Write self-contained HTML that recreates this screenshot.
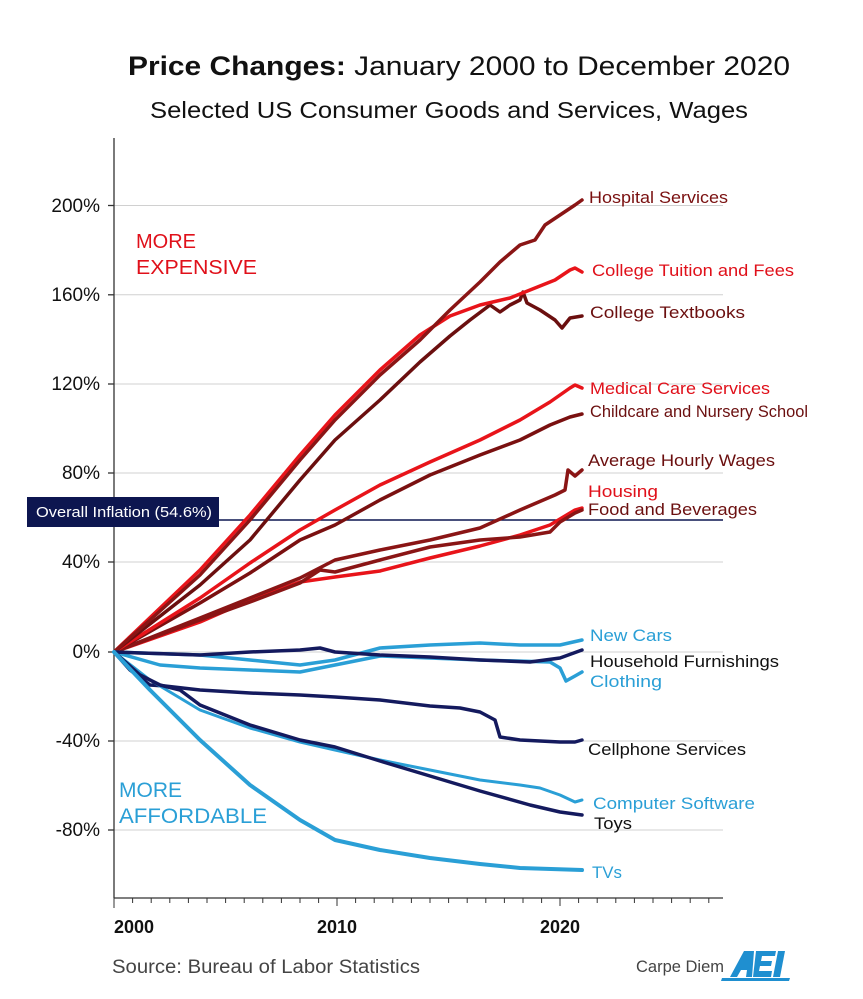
<!DOCTYPE html>
<html><head><meta charset="utf-8"><style>
body{margin:0;background:#fff;}
svg{display:block;font-family:"Liberation Sans",sans-serif;}
</style></head><body>
<svg width="863" height="999" viewBox="0 0 863 999" xmlns="http://www.w3.org/2000/svg">
<rect width="863" height="999" fill="#fff"/>
<text x="128" y="75" font-size="27" fill="#111" textLength="662" lengthAdjust="spacingAndGlyphs"><tspan font-weight="bold">Price Changes:</tspan> January 2000 to December 2020</text>
<text x="150" y="118" font-size="23" fill="#111" textLength="598" lengthAdjust="spacingAndGlyphs">Selected US Consumer Goods and Services, Wages</text>
<g stroke="#d0d0d0" stroke-width="1">
<line x1="114" x2="723" y1="205.5" y2="205.5"/>
<line x1="114" x2="723" y1="294.8" y2="294.8"/>
<line x1="114" x2="723" y1="384" y2="384"/>
<line x1="114" x2="723" y1="473" y2="473"/>
<line x1="114" x2="723" y1="562" y2="562"/>
<line x1="114" x2="723" y1="652" y2="652"/>
<line x1="114" x2="723" y1="741" y2="741"/>
<line x1="114" x2="723" y1="830" y2="830"/>
</g>
<g stroke="#333" stroke-width="1.3">
<line x1="114" y1="138" x2="114" y2="898"/>
<line x1="114" y1="898" x2="723" y2="898"/>
<line x1="108" x2="114" y1="205.5" y2="205.5"/><line x1="108" x2="114" y1="294.8" y2="294.8"/>
<line x1="108" x2="114" y1="384" y2="384"/><line x1="108" x2="114" y1="473" y2="473"/>
<line x1="108" x2="114" y1="562" y2="562"/><line x1="108" x2="114" y1="652" y2="652"/>
<line x1="108" x2="114" y1="741" y2="741"/><line x1="108" x2="114" y1="830" y2="830"/>
</g>
<g stroke="#333" stroke-width="1">
<line x1="114" x2="114" y1="898" y2="908"/>
<line x1="132.6" x2="132.6" y1="898" y2="903"/><line x1="151.2" x2="151.2" y1="898" y2="903"/><line x1="169.8" x2="169.8" y1="898" y2="903"/><line x1="188.4" x2="188.4" y1="898" y2="903"/><line x1="207" x2="207" y1="898" y2="903"/><line x1="225.6" x2="225.6" y1="898" y2="903"/><line x1="244.2" x2="244.2" y1="898" y2="903"/><line x1="262.8" x2="262.8" y1="898" y2="903"/><line x1="281.4" x2="281.4" y1="898" y2="903"/><line x1="300" x2="300" y1="898" y2="903"/><line x1="318.6" x2="318.6" y1="898" y2="903"/>
<line x1="337" x2="337" y1="898" y2="906"/>
<line x1="355.6" x2="355.6" y1="898" y2="903"/><line x1="374.2" x2="374.2" y1="898" y2="903"/><line x1="392.8" x2="392.8" y1="898" y2="903"/><line x1="411.4" x2="411.4" y1="898" y2="903"/><line x1="430" x2="430" y1="898" y2="903"/><line x1="448.6" x2="448.6" y1="898" y2="903"/><line x1="467.2" x2="467.2" y1="898" y2="903"/><line x1="485.8" x2="485.8" y1="898" y2="903"/><line x1="504.4" x2="504.4" y1="898" y2="903"/><line x1="523" x2="523" y1="898" y2="903"/><line x1="541.6" x2="541.6" y1="898" y2="903"/>
<line x1="560" x2="560" y1="898" y2="906"/>
<line x1="578.6" x2="578.6" y1="898" y2="903"/><line x1="597.2" x2="597.2" y1="898" y2="903"/><line x1="615.8" x2="615.8" y1="898" y2="903"/><line x1="634.4" x2="634.4" y1="898" y2="903"/><line x1="653" x2="653" y1="898" y2="903"/><line x1="671.6" x2="671.6" y1="898" y2="903"/><line x1="690.2" x2="690.2" y1="898" y2="903"/><line x1="708.8" x2="708.8" y1="898" y2="903"/>
</g>
<g font-size="19" fill="#111" text-anchor="end">
<text x="100" y="212">200%</text><text x="100" y="301">160%</text><text x="100" y="390">120%</text>
<text x="100" y="479">80%</text><text x="100" y="568">40%</text><text x="100" y="658">0%</text>
<text x="100" y="747">-40%</text><text x="100" y="836">-80%</text>
</g>
<g font-size="18" font-weight="bold" fill="#111" text-anchor="middle">
<text x="134" y="933">2000</text><text x="337" y="933">2010</text><text x="560" y="933">2020</text>
</g>
<text x="136" y="248" font-size="20" fill="#e0101a">MORE</text>
<text x="136" y="274" font-size="20" fill="#e0101a" textLength="121" lengthAdjust="spacingAndGlyphs">EXPENSIVE</text>
<text x="119" y="797" font-size="21" fill="#2a9fd6">MORE</text>
<text x="119" y="823" font-size="21" fill="#2a9fd6" textLength="148" lengthAdjust="spacingAndGlyphs">AFFORDABLE</text>
<line x1="219" x2="723" y1="520" y2="520" stroke="#0d1650" stroke-width="1.5"/>
<rect x="27" y="497" width="192" height="30" fill="#0d1650"/>
<text x="36" y="517" font-size="14.5" fill="#fff" textLength="176" lengthAdjust="spacingAndGlyphs">Overall Inflation (54.6%)</text>
<g fill="none" stroke-linejoin="round" stroke-linecap="round" stroke-width="3.5">
<polyline stroke="#e8141a" points="114,652 200,622 250,600 300,582 335,577 380,571 430,558 480,546 520,535 550,525 575,510 582,508"/>
<polyline stroke="#8a1515" points="114,652 200,620 250,602 300,583 320,570 335,572 380,560 430,547 480,540 520,537 550,532 560,522 575,513 582,510"/>
<polyline stroke="#8a1515" points="114,652 200,618 250,598 300,578 335,560 380,550 430,540 480,528 520,510 555,495 565,490 568,470 575,476 582,470"/>
<polyline stroke="#7a1010" points="114,652 200,603 250,573 300,540 335,525 380,500 430,475 480,455 520,440 550,425 570,417 582,414"/>
<polyline stroke="#e8141a" points="114,652 200,598 250,563 300,530 335,510 380,485 430,462 480,440 520,420 550,402 570,388 575,385 582,388"/>
<polyline stroke="#6b0f0f" points="114,652 200,585 250,540 300,480 335,440 380,400 420,362 450,336 470,320 490,305 500,312 510,305 520,300 523,292 527,303 540,310 555,320 562,328 570,318 582,316"/>
<polyline stroke="#e8141a" points="114,652 200,570 250,515 300,455 335,415 380,370 420,335 450,316 480,305 510,298 530,290 555,280 570,270 575,268 582,272"/>
<polyline stroke="#8a1515" points="114,652 150,620 200,575 250,520 300,460 335,420 380,375 420,340 450,310 480,282 500,262 520,245 535,240 545,225 560,215 575,205 582,200"/>
<polyline stroke="#2a9fd6" points="114,652 200,655 250,660 300,665 335,660 380,648 430,645 480,643 520,645 560,645 582,640"/>
<polyline stroke="#2a9fd6" points="114,652 160,665 200,668 250,670 300,672 335,665 380,656 430,658 480,660 550,662 560,668 566,681 575,676 582,672"/>
<polyline stroke="#141a5e" points="114,652 200,655 250,652 300,650 320,648 335,652 380,655 430,657 480,660 530,662 560,658 582,650"/>
<polyline stroke="#141a5e" points="114,652 130,670 150,685 165,686 200,690 250,693 300,695 335,697 380,700 430,706 460,708 480,712 495,720 500,737 520,740 560,742 575,742 582,740"/>
<polyline stroke="#2a9fd6" stroke-width="3" points="114,652 150,680 200,710 250,728 300,742 335,750 380,760 430,770 480,780 520,785 540,788 560,795 575,802 582,800"/>
<polyline stroke="#141a5e" points="114,652 140,675 160,685 180,690 200,705 250,725 300,740 335,747 380,761 430,776 480,791 530,805 560,812 582,815"/>
<polyline stroke="#2a9fd6" stroke-width="4" points="114,652 150,690 200,740 250,785 300,820 335,840 380,850 430,858 480,864 520,868 582,870"/>
</g>
<g font-size="17">
<text x="589" y="203" fill="#7a1010" textLength="139" lengthAdjust="spacingAndGlyphs">Hospital Services</text>
<text x="592" y="276" fill="#e0101a" textLength="202" lengthAdjust="spacingAndGlyphs">College Tuition and Fees</text>
<text x="590" y="318" fill="#6b0f0f" textLength="155" lengthAdjust="spacingAndGlyphs">College Textbooks</text>
<text x="590" y="394" fill="#e0101a" textLength="180" lengthAdjust="spacingAndGlyphs">Medical Care Services</text>
<text x="590" y="417" fill="#6b0f0f" textLength="218" lengthAdjust="spacingAndGlyphs">Childcare and Nursery School</text>
<text x="588" y="466" fill="#6b0f0f" textLength="187" lengthAdjust="spacingAndGlyphs">Average Hourly Wages</text>
<text x="588" y="497" fill="#e0101a" textLength="70" lengthAdjust="spacingAndGlyphs">Housing</text>
<text x="588" y="515" fill="#6b0f0f" textLength="169" lengthAdjust="spacingAndGlyphs">Food and Beverages</text>
<text x="590" y="641" fill="#2a9fd6" textLength="82" lengthAdjust="spacingAndGlyphs">New Cars</text>
<text x="590" y="667" fill="#111" textLength="189" lengthAdjust="spacingAndGlyphs">Household Furnishings</text>
<text x="590" y="687" fill="#2a9fd6" textLength="72" lengthAdjust="spacingAndGlyphs">Clothing</text>
<text x="588" y="755" fill="#111" textLength="158" lengthAdjust="spacingAndGlyphs">Cellphone Services</text>
<text x="593" y="809" fill="#2a9fd6" textLength="162" lengthAdjust="spacingAndGlyphs">Computer Software</text>
<text x="594" y="829" fill="#111" textLength="38" lengthAdjust="spacingAndGlyphs">Toys</text>
<text x="592" y="878" fill="#2a9fd6" textLength="30" lengthAdjust="spacingAndGlyphs">TVs</text>
</g>
<text x="112" y="973" font-size="19" fill="#444" textLength="308" lengthAdjust="spacingAndGlyphs">Source: Bureau of Labor Statistics</text>
<text x="636" y="972" font-size="17" fill="#444" textLength="88" lengthAdjust="spacingAndGlyphs">Carpe Diem</text>
<g fill="#1f8fd0">
<polygon points="730,977 744,951 754,951 752,977 746,977 747,970 741,970 737,977"/>
<polygon points="756,951 776,951 775,956 762,956 761,961 772,961 771,966 760,966 759,971 772,971 771,977 753,977"/>
<polygon points="778,951 785,951 780,977 773,977"/>
<polygon points="722,978 790,978 789,981 721,981"/>
</g>
</svg>
</body></html>
